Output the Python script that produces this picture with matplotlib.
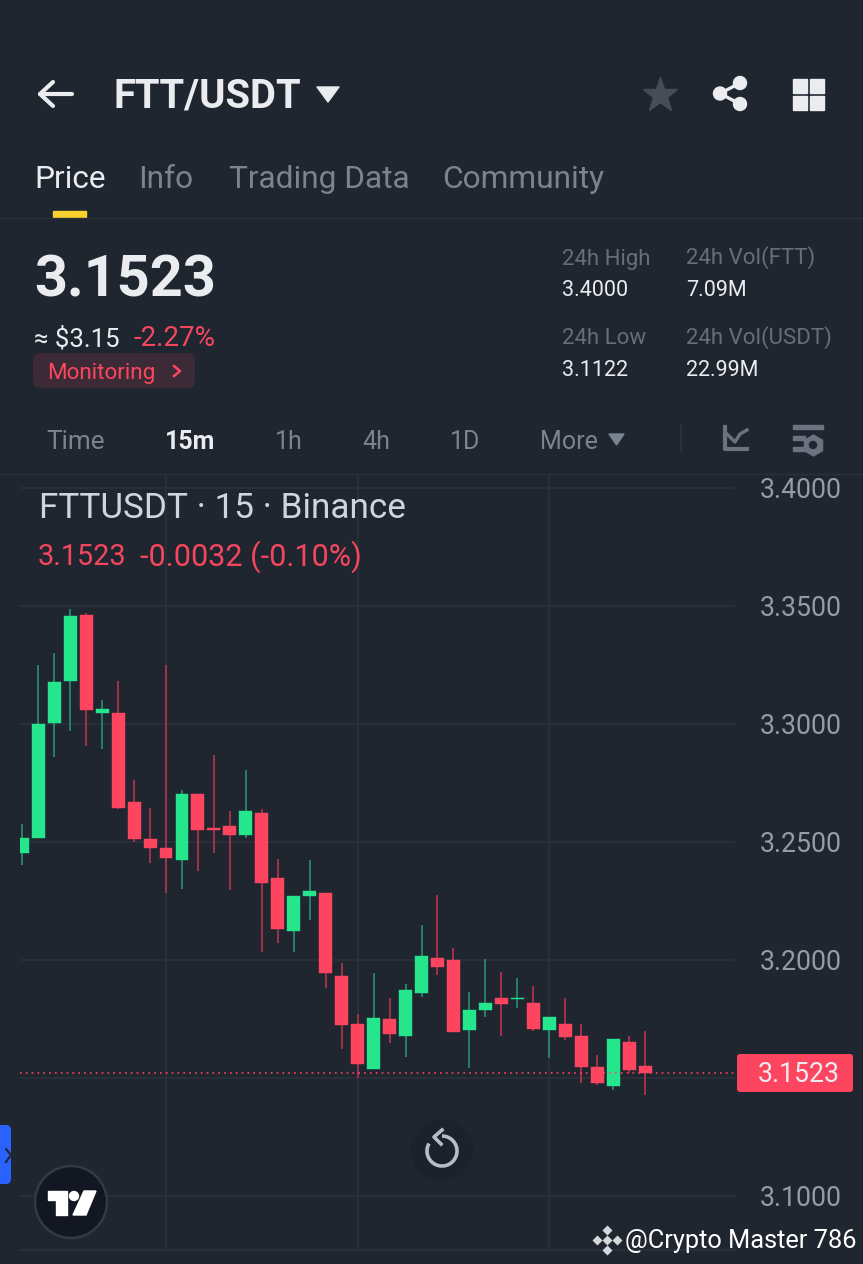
import matplotlib
matplotlib.use('Agg')
import matplotlib.pyplot as plt
import numpy as np
from matplotlib.patches import Arc, Circle, FancyBboxPatch, Polygon, Rectangle

plt.rcParams['font.family'] = ['Roboto', 'DejaVu Sans']

# candle values
opens = [3.2455, 3.2516, 3.3003, 3.3184, 3.3460, 3.3045, 3.3045, 3.2668, 3.2511, 3.2476,
         3.2422, 3.2702, 3.2558, 3.2566, 3.2530, 3.2621, 3.2346, 3.2124, 3.2270, 3.2284,
         3.1931, 3.1729, 3.1540, 3.1749, 3.1679, 3.1859, 3.2010, 3.1999, 3.1703, 3.1788,
         3.1840, 3.1835, 3.1819, 3.1703, 3.1729, 3.1677, 3.1548, 3.1466, 3.1654, 3.1552]
highs = [3.2578, 3.3251, 3.3302, 3.3489, 3.3469, 3.3102, 3.3184, 3.2763, 3.2644, 3.3251,
         3.2719, 3.2702, 3.2867, 3.2630, 3.2806, 3.2638, 3.2427, 3.2271, 3.2425, 3.2284,
         3.1987, 3.1773, 3.1945, 3.1840, 3.1897, 3.2147, 3.2277, 3.2052, 3.1864, 3.2003,
         3.1948, 3.1925, 3.1891, 3.1757, 3.1840, 3.1729, 3.1596, 3.1664, 3.1678, 3.1698]
lows = [3.2401, 3.2516, 3.2860, 3.2970, 3.2907, 3.2895, 3.2638, 3.2500, 3.2410, 3.2282,
        3.2299, 3.2377, 3.2452, 3.2297, 3.2517, 3.2032, 3.2071, 3.2032, 3.2168, 3.1881,
        3.1624, 3.1499, 3.1540, 3.1647, 3.1589, 3.1842, 3.1938, 3.1695, 3.1542, 3.1760,
        3.1679, 3.1798, 3.1698, 3.1583, 3.1661, 3.1479, 3.1469, 3.1448, 3.1521, 3.1427]
closes = [3.2516, 3.3000, 3.3177, 3.3458, 3.3058, 3.3062, 3.2644, 3.2513, 3.2476, 3.2432,
          3.2702, 3.2551, 3.2551, 3.2530, 3.2630, 3.2326, 3.2133, 3.2271, 3.2292, 3.1944,
          3.1723, 3.1557, 3.1753, 3.1685, 3.1874, 3.2016, 3.1969, 3.1695, 3.1790, 3.1816,
          3.1814, 3.1840, 3.1706, 3.1757, 3.1675, 3.1547, 3.1479, 3.1664, 3.1532, 3.1523]
price_ticks = [3.10, 3.15, 3.20, 3.25, 3.30, 3.35, 3.40]
price_labels = ['3.1000', '', '3.2000', '3.2500', '3.3000', '3.3500', '3.4000']  # 3.15 sits under the tag
time_ticks = [9, 21, 33]
last_price = 3.1523

W, H = 863, 1264
BG = '#1f2630'
GRID = '#2a313b'
WHITE = '#eaecef'
GREY = '#7a8390'
DIM = '#656e7b'
RED = '#f6465d'
UP = '#25e68c'
DOWN = '#fd4560'
UP_WICK = '#2a9a78'
DOWN_WICK = '#c9324f'

fig = plt.figure(figsize=(W / 100, H / 100), dpi=100, facecolor=BG)

# chart area, px 20..735 wide and 474..1250 high
ax = fig.add_axes([20 / W, 1 - 1250 / H, 715 / W, 776 / H], facecolor=BG, zorder=1)
x = np.arange(len(opens))
o, c = np.array(opens), np.array(closes)
up = c >= o
ax.vlines(x[up], np.array(lows)[up], np.array(highs)[up], color=UP_WICK, lw=1.1, zorder=3)
ax.vlines(x[~up], np.array(lows)[~up], np.array(highs)[~up], color=DOWN_WICK, lw=1.1, zorder=3)
colors = [UP if u else DOWN for u in up]
ax.bar(x, np.abs(c - o), bottom=np.minimum(o, c), width=0.81, color=colors, zorder=4,
       edgecolor=colors, linewidth=0.3)
ax.axhline(last_price, color=DOWN, lw=1.2, ls=(0, (1, 2.5)), zorder=5)

ax.set_xlim(-0.144, 44.63)
ax.set_ylim(3.0771, 3.4059)
ax.set_yticks(price_ticks)
ax.set_yticklabels(price_labels, color='#969ca6', fontsize=19.2)
ax.set_xticks(time_ticks)
ax.set_xticklabels([])
ax.yaxis.tick_right()
ax.tick_params(length=0, pad=18)
for t in ax.get_yticklabels():
    t.set_va('center_baseline')
ax.grid(True, color=GRID, lw=1.2, zorder=0)
for side, sp in ax.spines.items():
    sp.set_visible(side == 'bottom')
    sp.set_color(GRID)
    sp.set_linewidth(1.2)

# app interface on top, in pixel coordinates
ui = fig.add_axes([0, 0, 1, 1], zorder=2)
ui.patch.set_alpha(0)
ui.set_xlim(0, W)
ui.set_ylim(H, 0)
ui.axis('off')


def label(px, py, s, color=WHITE, size=14, weight='normal', ha='left'):
    ui.text(px, py + 2, s, color=color, fontsize=size, fontweight=weight, ha=ha, va='center')


# header
ui.plot([40, 72], [94, 94], color=WHITE, lw=3, solid_capstyle='round')
ui.plot([53, 40, 53], [82, 94, 106], color=WHITE, lw=3, solid_capstyle='round', solid_joinstyle='round')
label(113, 95, 'FTT/USDT', size=28.8, weight='bold')
ui.add_patch(Polygon([(317, 87), (339, 87), (328, 102)], closed=True, color=WHITE, joinstyle='round'))
ui.plot([660], [95], marker='*', ms=26, color='#474d57', mec='#474d57')
ui.plot([740, 720, 740], [83, 93.5, 104], color=WHITE, lw=2.4)
for cx, cy in [(740, 83), (720, 93.5), (740, 104)]:
    ui.add_patch(Circle((cx, cy), 6.5, color=WHITE))
for sx, sy in [(793, 79), (810, 79), (793, 96), (810, 96)]:
    ui.add_patch(Rectangle((sx, sy), 14, 13.5, color=WHITE))

# tabs
label(34, 178, 'Price', size=22.8)
label(138, 178, 'Info', color=GREY, size=22.8)
label(229, 178, 'Trading Data', color=GREY, size=22.8)
label(442, 178, 'Community', color=GREY, size=22.8)
ui.add_patch(Rectangle((53, 211), 33, 6, color='#f8d12f'))
ui.plot([0, W], [217.5, 217.5], color=GRID, lw=1)

# price block
label(34, 279, '3.1523', size=41.5, weight='bold')
label(34, 337, '≈ $3.15', size=18.5)
label(133, 337, '-2.27%', color=RED, size=20)
ui.add_patch(FancyBboxPatch((38, 358), 152, 25, boxstyle='round,pad=5,rounding_size=7',
                            fc='#3c2a36', ec='none'))
label(47, 371, 'Monitoring', color=DOWN, size=16.2)
ui.plot([174, 180, 174], [366, 371, 376], color=DOWN, lw=1.8)

# 24h stats
label(562, 258, '24h High', color=DIM, size=16)
label(562, 289, '3.4000', size=15.5)
label(686, 256, '24h Vol(FTT)', color=DIM, size=16)
label(686, 288, '7.09M', size=15.5)
label(562, 337, '24h Low', color=DIM, size=16)
label(562, 369, '3.1122', size=15.5)
label(686, 336, '24h Vol(USDT)', color=DIM, size=16)
label(686, 368, '22.99M', size=15.5)

# interval row
label(46, 440, 'Time', color=GREY, size=18.8)
label(165, 440, '15m', size=18, weight='bold')
label(275, 440, '1h', color=GREY, size=18)
label(362, 440, '4h', color=GREY, size=18)
label(450, 440, '1D', color=GREY, size=18)
label(540, 440, 'More', color=GREY, size=18)
ui.add_patch(Polygon([(609, 434), (624, 434), (616.5, 445)], closed=True, color=GREY))
ui.plot([681, 681], [425, 452], color=GRID, lw=1.5)
ui.plot([0, W], [473.5, 473.5], color=GRID, lw=1)
ui.plot([725, 725, 747], [427, 449, 449], color='#6b7380', lw=3)
ui.plot([727, 735, 740, 747], [434, 442, 434, 430], color='#6b7380', lw=2.4)
ui.add_patch(Rectangle((793, 425), 30, 4, color='#6b7380'))
ui.add_patch(Rectangle((793, 436), 12, 4, color='#6b7380'))
ui.add_patch(Rectangle((793, 447), 12, 4, color='#6b7380'))
ui.plot([813], [445], marker='h', ms=15, color='#6b7380', mec='#6b7380')
ui.add_patch(Circle((813, 445), 3.5, color=BG, zorder=3))

# chart legend
label(39, 507, 'FTTUSDT · 15 · Binance', color='#d1d4dc', size=25.3)
label(38, 555, '3.1523', color=RED, size=20.7)
label(140, 555, '-0.0032 (-0.10%)', color=RED, size=22)

# last price tag
ui.add_patch(FancyBboxPatch((739, 1056), 112, 34, boxstyle='round,pad=2,rounding_size=3',
                            fc=DOWN, ec='none'))
label(799, 1072, f'{last_price:.4f}', color=WHITE, size=19.2, ha='center')

# overlays at the bottom
ui.add_patch(FancyBboxPatch((-8, 1127), 17, 55, boxstyle='round,pad=2,rounding_size=5',
                            fc='#2962ff', ec='none'))
ui.plot([6, 11, 6], [1149, 1155, 1162], color='#1f2630', lw=1.5)
ui.add_patch(Circle((442, 1150), 31, fc='#1c222b', ec='none'))
ui.add_patch(Arc((442, 1151), 30, 30, theta1=-90, theta2=210, color='#b7bdc6', lw=2.6))
ui.plot([442, 434, 441], [1130, 1137, 1144], color='#b7bdc6', lw=2.6)

ui.add_patch(Circle((71, 1202), 36, fc='#131722', ec='#333945', lw=1.8))
ui.add_patch(Polygon([(48, 1191), (67, 1191), (67, 1215), (56, 1215), (56, 1200), (48, 1200)],
                     closed=True, color='white'))
ui.add_patch(Circle((74, 1196), 4.5, color='white'))
ui.add_patch(Polygon([(84, 1191), (96, 1191), (86, 1215), (73, 1215)], closed=True, color='white'))

for dx, dy in [(0, -10), (-10, 0), (10, 0), (0, 10), (0, 0)]:
    ui.plot([607 + dx], [1240 + dy], marker='D', ms=4.6, color='#d5d7da', mec='none')
label(625, 1239, '@Crypto Master 786', color='white', size=18.3)

fig.savefig('out.png', dpi=100, facecolor=BG)
